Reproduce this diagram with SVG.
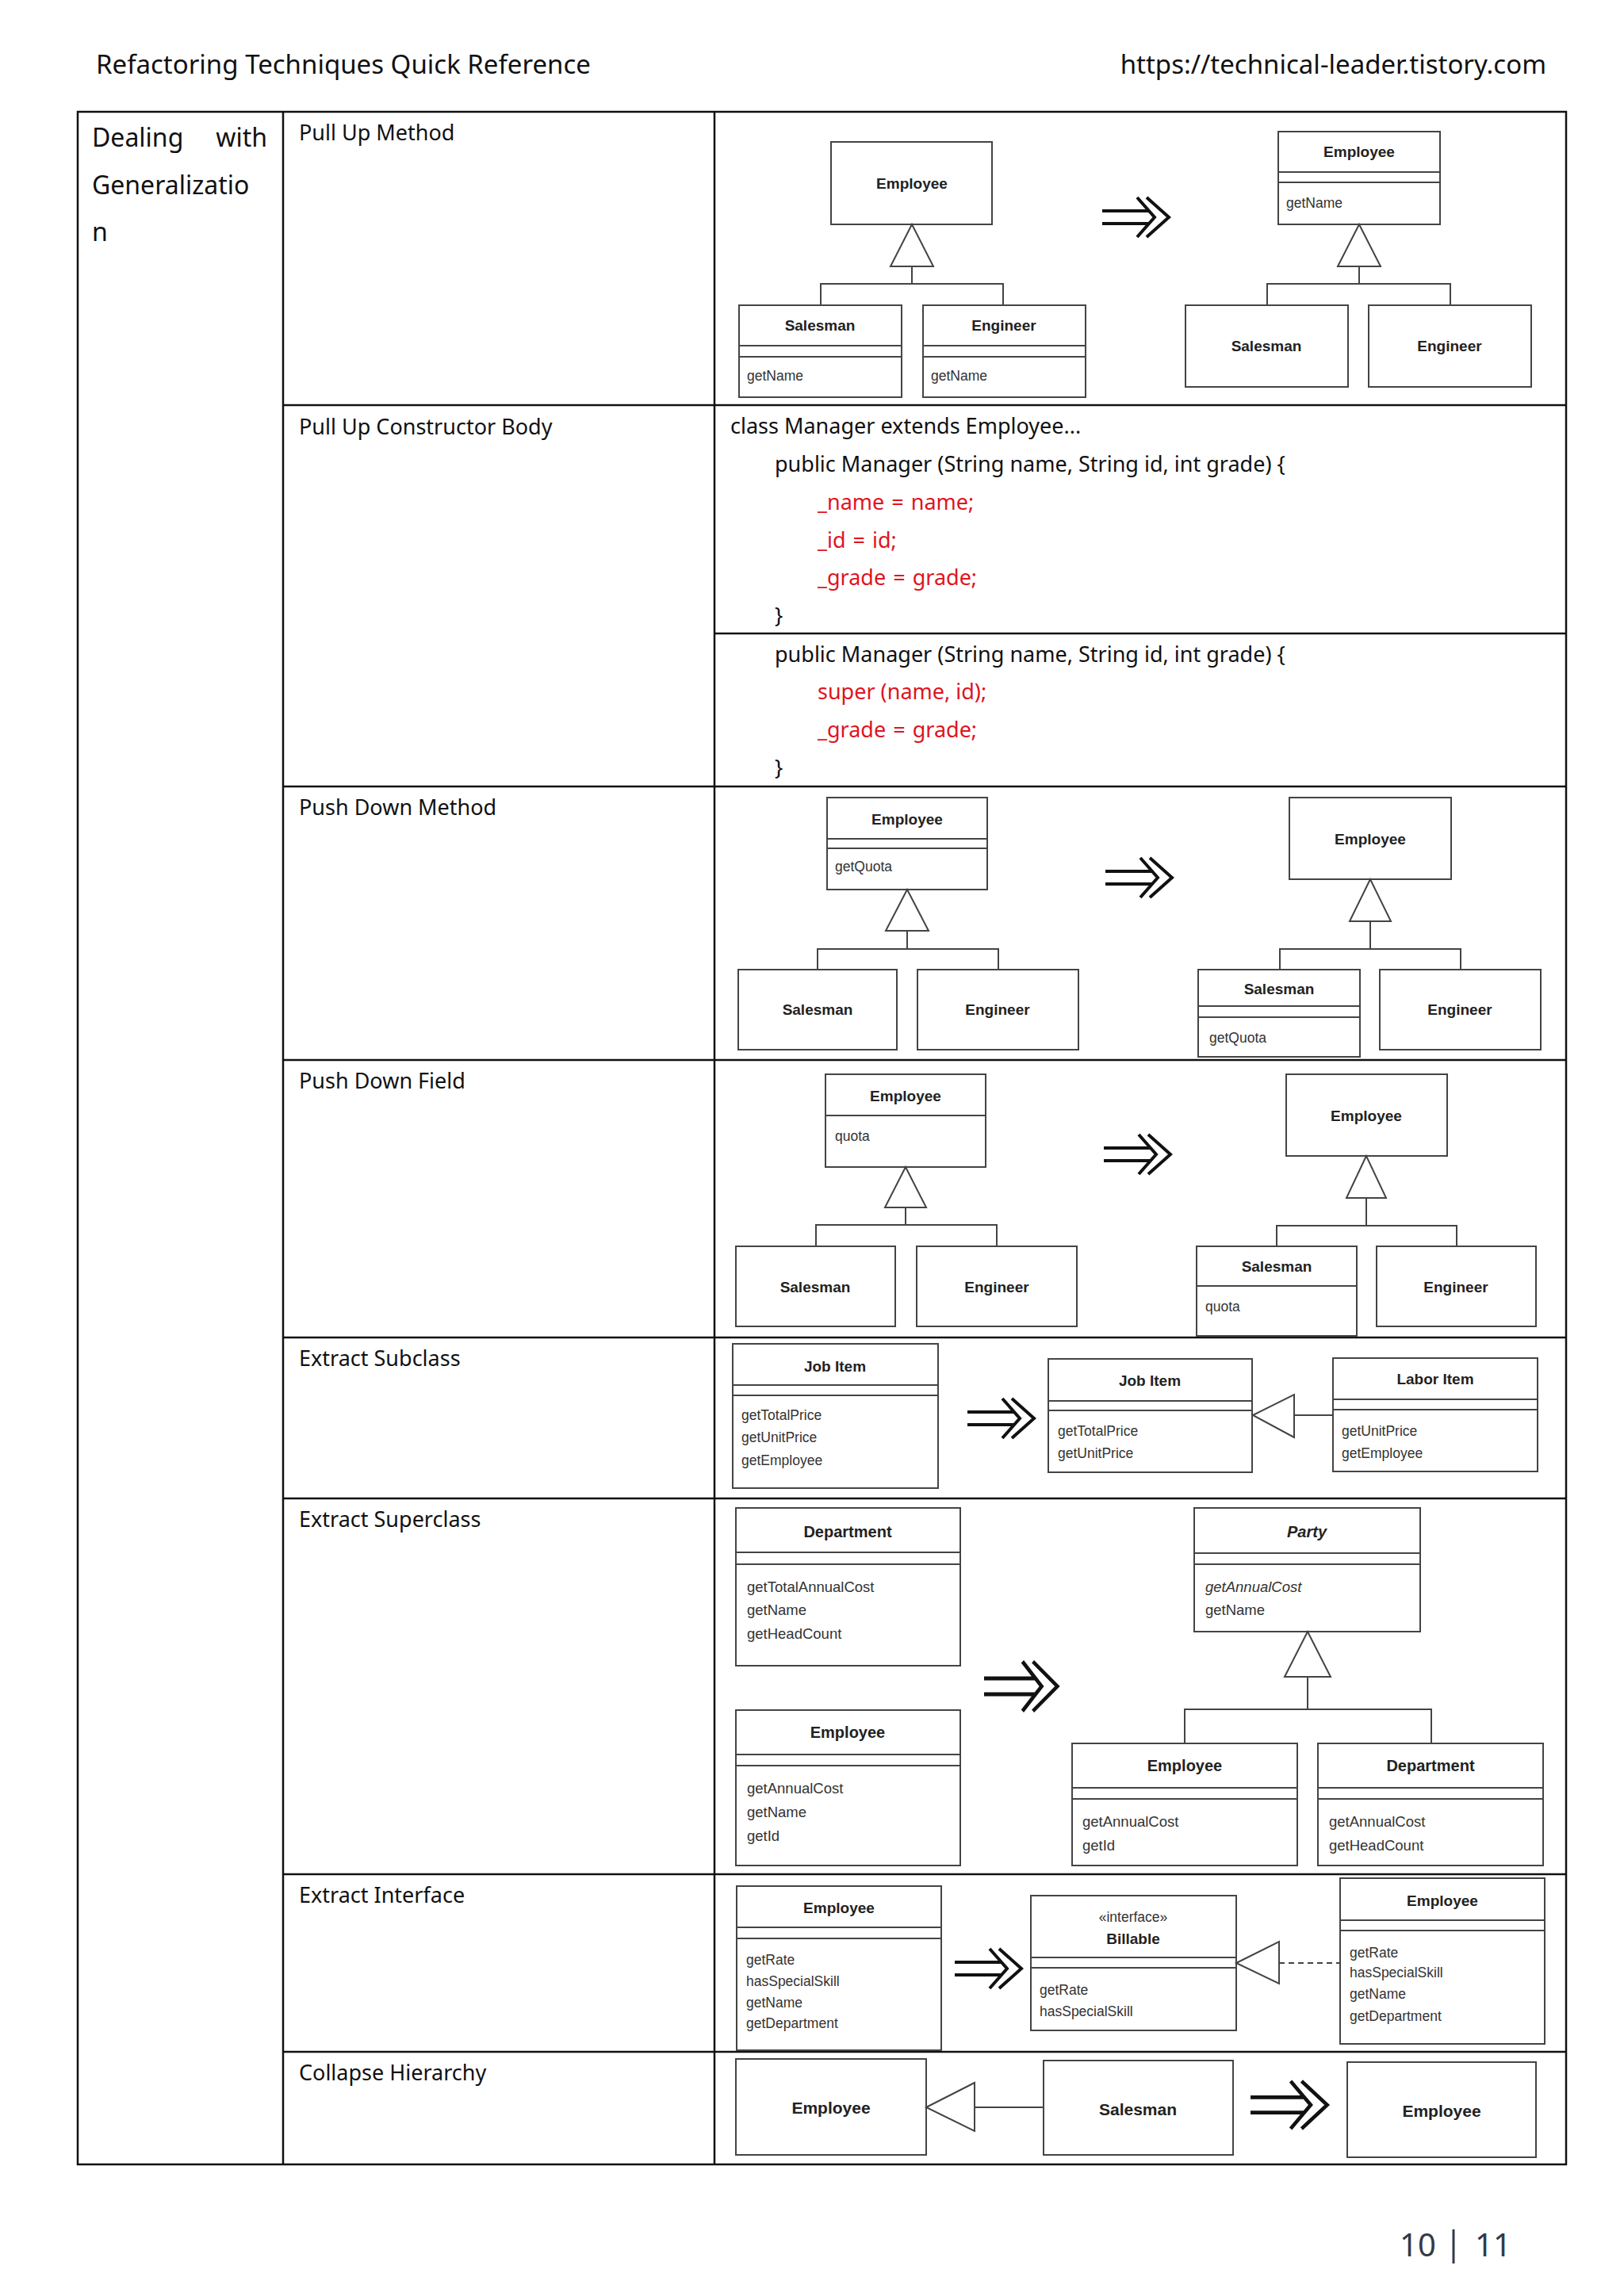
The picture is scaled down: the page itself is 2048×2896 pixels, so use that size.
<svg xmlns="http://www.w3.org/2000/svg" width="2048" height="2896" viewBox="0 0 2048 2896">
<style>
.t{font-family:"Noto Sans","Open Sans",sans-serif;fill:#111}
.h{font-size:33px}
.c1{font-size:32px}
.c2{font-size:27px}
.red{fill:#e0141e}
.ws{word-spacing:2px}
.pg{font-size:40px;fill:#333a48}
.grid{stroke:#111;stroke-width:2.5;fill:none}
.box{fill:#fff;stroke:#444;stroke-width:2}
.dv{stroke:#444;stroke-width:2}
.cn{font-family:"Liberation Sans",Arial,sans-serif;font-weight:bold;font-size:19px;fill:#222;text-anchor:middle}
.cn2{font-size:20px}
.cn3{font-size:21px}
.m{font-family:"Liberation Sans",Arial,sans-serif;font-size:17.5px;fill:#333}
.m2{font-size:18.5px}
.it{font-style:italic}
.conn{stroke:#444;stroke-width:2;fill:none}
.dash{stroke-dasharray:7 5}
.tri{fill:#fff;stroke:#444;stroke-width:2}
.arr{stroke:#111;stroke-width:4;fill:none}
</style>
<defs>
<g id="dblarrow">
<path class="arr" d="M0,-8 H60 M0,8 H60 M44,-25 L66,0 L44,25 M56,-25 L84,0 L56,25"/>
</g>
</defs>
<rect width="2048" height="2896" fill="#fff"/>

<g id="header">
<text class="t h" x="121" y="93">Refactoring Techniques Quick Reference</text>
<text class="t h" x="1950" y="93" text-anchor="end">https://technical-leader.tistory.com</text>
</g>

<g id="table">
<rect class="grid" x="98" y="141" width="1877" height="2589"/>
<path class="grid" d="M357,141 V2730 M901,141 V2730 M357,511 H1975 M357,992 H1975 M357,1337 H1975 M357,1687 H1975 M357,1890 H1975 M357,2364 H1975 M357,2588 H1975 M901,799 H1975"/>
</g>

<g id="category">
<text class="t c1" x="116" y="185">Dealing</text>
<text class="t c1" x="337" y="185" text-anchor="end">with</text>
<text class="t c1" x="116" y="245">Generalizatio</text>
<text class="t c1" x="116" y="304">n</text>
</g>

<g id="names">
<text class="t c2" x="377" y="177">Pull Up Method</text>
<text class="t c2" x="377" y="548">Pull Up Constructor Body</text>
<text class="t c2" x="377" y="1028">Push Down Method</text>
<text class="t c2" x="377" y="1373">Push Down Field</text>
<text class="t c2" x="377" y="1723">Extract Subclass</text>
<text class="t c2" x="377" y="1926">Extract Superclass</text>
<text class="t c2" x="377" y="2400">Extract Interface</text>
<text class="t c2" x="377" y="2624">Collapse Hierarchy</text>
</g>

<g id="code">
<text class="t c2" x="921" y="547">class Manager extends Employee...</text>
<text class="t c2" x="977" y="595">public Manager (String name, String id, int grade) {</text>
<text class="t c2 red ws" x="1031" y="643">_name = name;</text>
<text class="t c2 red ws" x="1031" y="691">_id = id;</text>
<text class="t c2 red ws" x="1031" y="738">_grade = grade;</text>
<text class="t c2" x="977" y="786">}</text>
<text class="t c2" x="977" y="835">public Manager (String name, String id, int grade) {</text>
<text class="t c2 red" x="1031" y="882">super (name, id);</text>
<text class="t c2 red ws" x="1031" y="930">_grade = grade;</text>
<text class="t c2" x="977" y="978">}</text>
</g>

<!-- Row 1: Pull Up Method -->
<g id="r1-employee">
<rect class="box" x="1048" y="179" width="203" height="104"/>
<text class="cn" x="1150" y="238">Employee</text>
</g>
<g id="r1-salesman">
<rect class="box" x="932" y="385" width="205" height="116"/>
<path class="dv" d="M932,436 H1137 M932,450 H1137"/>
<text class="cn" x="1034" y="417">Salesman</text>
<text class="m" x="942" y="480">getName</text>
</g>
<g id="r1-engineer">
<rect class="box" x="1164" y="385" width="205" height="116"/>
<path class="dv" d="M1164,436 H1369 M1164,450 H1369"/>
<text class="cn" x="1266" y="417">Engineer</text>
<text class="m" x="1174" y="480">getName</text>
</g>
<g id="r1-employee2">
<rect class="box" x="1612" y="166" width="204" height="117"/>
<path class="dv" d="M1612,217 H1816 M1612,230 H1816"/>
<text class="cn" x="1714" y="198">Employee</text>
<text class="m" x="1622" y="262">getName</text>
</g>
<g id="r1-salesman2">
<rect class="box" x="1495" y="385" width="205" height="103"/>
<text class="cn" x="1597" y="443">Salesman</text>
</g>
<g id="r1-engineer2">
<rect class="box" x="1726" y="385" width="205" height="103"/>
<text class="cn" x="1828" y="443">Engineer</text>
</g>

<!-- Row 3: Push Down Method -->
<g id="r3-employee">
<rect class="box" x="1043" y="1006" width="202" height="116"/>
<path class="dv" d="M1043,1058 H1245 M1043,1070 H1245"/>
<text class="cn" x="1144" y="1040">Employee</text>
<text class="m" x="1053" y="1099">getQuota</text>
</g>
<g id="r3-salesman">
<rect class="box" x="931" y="1223" width="200" height="101"/>
<text class="cn" x="1031" y="1280">Salesman</text>
</g>
<g id="r3-engineer">
<rect class="box" x="1157" y="1223" width="203" height="101"/>
<text class="cn" x="1258" y="1280">Engineer</text>
</g>
<g id="r3-employee2">
<rect class="box" x="1626" y="1006" width="204" height="103"/>
<text class="cn" x="1728" y="1065">Employee</text>
</g>
<g id="r3-salesman2">
<rect class="box" x="1511" y="1223" width="204" height="110"/>
<path class="dv" d="M1511,1269 H1715 M1511,1283 H1715"/>
<text class="cn" x="1613" y="1254">Salesman</text>
<text class="m" x="1525" y="1315">getQuota</text>
</g>
<g id="r3-engineer2">
<rect class="box" x="1740" y="1223" width="203" height="101"/>
<text class="cn" x="1841" y="1280">Engineer</text>
</g>

<!-- Row 4: Push Down Field -->
<g id="r4-employee">
<rect class="box" x="1041" y="1355" width="202" height="117"/>
<path class="dv" d="M1041,1407 H1243"/>
<text class="cn" x="1142" y="1389">Employee</text>
<text class="m" x="1053" y="1439">quota</text>
</g>
<g id="r4-salesman">
<rect class="box" x="928" y="1572" width="201" height="101"/>
<text class="cn" x="1028" y="1630">Salesman</text>
</g>
<g id="r4-engineer">
<rect class="box" x="1156" y="1572" width="202" height="101"/>
<text class="cn" x="1257" y="1630">Engineer</text>
</g>
<g id="r4-employee2">
<rect class="box" x="1622" y="1355" width="203" height="103"/>
<text class="cn" x="1723" y="1414">Employee</text>
</g>
<g id="r4-salesman2">
<rect class="box" x="1509" y="1572" width="202" height="113"/>
<path class="dv" d="M1509,1622 H1711"/>
<text class="cn" x="1610" y="1604">Salesman</text>
<text class="m" x="1520" y="1654">quota</text>
</g>
<g id="r4-engineer2">
<rect class="box" x="1736" y="1572" width="201" height="101"/>
<text class="cn" x="1836" y="1630">Engineer</text>
</g>

<!-- Row 5: Extract Subclass -->
<g id="r5-jobitem">
<rect class="box" x="924" y="1695" width="259" height="182"/>
<path class="dv" d="M924,1747 H1183 M924,1760 H1183"/>
<text class="cn" x="1053" y="1730">Job Item</text>
<text class="m" x="935" y="1791">getTotalPrice</text>
<text class="m" x="935" y="1819">getUnitPrice</text>
<text class="m" x="935" y="1848">getEmployee</text>
</g>
<g id="r5-jobitem2">
<rect class="box" x="1322" y="1714" width="257" height="143"/>
<path class="dv" d="M1322,1767 H1579 M1322,1779 H1579"/>
<text class="cn" x="1450" y="1748">Job Item</text>
<text class="m" x="1334" y="1811">getTotalPrice</text>
<text class="m" x="1334" y="1839">getUnitPrice</text>
</g>
<g id="r5-laboritem">
<rect class="box" x="1681" y="1713" width="258" height="143"/>
<path class="dv" d="M1681,1765 H1939 M1681,1778 H1939"/>
<text class="cn" x="1810" y="1746">Labor Item</text>
<text class="m" x="1692" y="1811">getUnitPrice</text>
<text class="m" x="1692" y="1839">getEmployee</text>
</g>

<!-- Row 6: Extract Superclass -->
<g id="r6-department">
<rect class="box" x="928" y="1902" width="283" height="199"/>
<path class="dv" d="M928,1958 H1211 M928,1973 H1211"/>
<text class="cn cn2" x="1069" y="1939">Department</text>
<text class="m m2" x="942" y="2008">getTotalAnnualCost</text>
<text class="m m2" x="942" y="2037">getName</text>
<text class="m m2" x="942" y="2067">getHeadCount</text>
</g>
<g id="r6-employee">
<rect class="box" x="928" y="2157" width="283" height="196"/>
<path class="dv" d="M928,2213 H1211 M928,2227 H1211"/>
<text class="cn cn2" x="1069" y="2192">Employee</text>
<text class="m m2" x="942" y="2262">getAnnualCost</text>
<text class="m m2" x="942" y="2292">getName</text>
<text class="m m2" x="942" y="2322">getId</text>
</g>
<g id="r6-party">
<rect class="box" x="1506" y="1902" width="285" height="156"/>
<path class="dv" d="M1506,1959 H1791 M1506,1973 H1791"/>
<text class="cn cn2 it" x="1648" y="1939">Party</text>
<text class="m m2 it" x="1520" y="2008">getAnnualCost</text>
<text class="m m2" x="1520" y="2037">getName</text>
</g>
<g id="r6-employee2">
<rect class="box" x="1352" y="2199" width="284" height="154"/>
<path class="dv" d="M1352,2255 H1636 M1352,2269 H1636"/>
<text class="cn cn2" x="1494" y="2234">Employee</text>
<text class="m m2" x="1365" y="2304">getAnnualCost</text>
<text class="m m2" x="1365" y="2334">getId</text>
</g>
<g id="r6-department2">
<rect class="box" x="1662" y="2199" width="284" height="154"/>
<path class="dv" d="M1662,2255 H1946 M1662,2269 H1946"/>
<text class="cn cn2" x="1804" y="2234">Department</text>
<text class="m m2" x="1676" y="2304">getAnnualCost</text>
<text class="m m2" x="1676" y="2334">getHeadCount</text>
</g>

<!-- Row 7: Extract Interface -->
<g id="r7-employee">
<rect class="box" x="929" y="2379" width="258" height="207"/>
<path class="dv" d="M929,2431 H1187 M929,2445 H1187"/>
<text class="cn" x="1058" y="2413">Employee</text>
<text class="m" x="941" y="2478">getRate</text>
<text class="m" x="941" y="2505">hasSpecialSkill</text>
<text class="m" x="941" y="2532">getName</text>
<text class="m" x="941" y="2558">getDepartment</text>
</g>
<g id="r7-billable">
<rect class="box" x="1300" y="2391" width="259" height="170"/>
<path class="dv" d="M1300,2469 H1559 M1300,2482 H1559"/>
<text class="m" x="1429" y="2424" text-anchor="middle" font-size="16">«interface»</text>
<text class="cn" x="1429" y="2452">Billable</text>
<text class="m" x="1311" y="2516">getRate</text>
<text class="m" x="1311" y="2543">hasSpecialSkill</text>
</g>
<g id="r7-employee2">
<rect class="box" x="1690" y="2369" width="258" height="209"/>
<path class="dv" d="M1690,2422 H1948 M1690,2435 H1948"/>
<text class="cn" x="1819" y="2404">Employee</text>
<text class="m" x="1702" y="2469">getRate</text>
<text class="m" x="1702" y="2494">hasSpecialSkill</text>
<text class="m" x="1702" y="2521">getName</text>
<text class="m" x="1702" y="2549">getDepartment</text>
</g>

<!-- Row 8: Collapse Hierarchy -->
<g id="r8-employee">
<rect class="box" x="928" y="2597" width="240" height="121"/>
<text class="cn cn3" x="1048" y="2666">Employee</text>
</g>
<g id="r8-salesman">
<rect class="box" x="1316" y="2599" width="239" height="119"/>
<text class="cn cn3" x="1435" y="2668">Salesman</text>
</g>
<g id="r8-employee2">
<rect class="box" x="1699" y="2601" width="238" height="120"/>
<text class="cn cn3" x="1818" y="2670">Employee</text>
</g>

<g id="connectors">
<!-- row 1 -->
<path class="conn" d="M1150,336 V358 M1035,385 V358 H1265 V385"/>
<polygon class="tri" points="1150,283 1123,336 1177,336"/>
<path class="conn" d="M1714,336 V358 M1598,385 V358 H1829 V385"/>
<polygon class="tri" points="1714,283 1687,336 1741,336"/>
<!-- row 3 -->
<path class="conn" d="M1144,1174 V1197 M1031,1223 V1197 H1259 V1223"/>
<polygon class="tri" points="1144,1122 1117,1174 1171,1174"/>
<path class="conn" d="M1728,1162 V1197 M1614,1223 V1197 H1842 V1223"/>
<polygon class="tri" points="1728,1109 1702,1162 1754,1162"/>
<!-- row 4 -->
<path class="conn" d="M1142,1523 V1545 M1029,1572 V1545 H1257 V1572"/>
<polygon class="tri" points="1142,1472 1116,1523 1168,1523"/>
<path class="conn" d="M1723,1511 V1546 M1610,1572 V1546 H1837 V1572"/>
<polygon class="tri" points="1723,1458 1698,1511 1748,1511"/>
<!-- row 5 -->
<path class="conn" d="M1632,1785 H1681"/>
<polygon class="tri" points="1580,1785 1632,1759 1632,1813"/>
<!-- row 6 -->
<path class="conn" d="M1649,2115 V2156 M1494,2199 V2156 H1805 V2199"/>
<polygon class="tri" points="1649,2058 1620,2115 1678,2115"/>
<!-- row 7 -->
<path class="conn dash" d="M1613,2476 H1690"/>
<polygon class="tri" points="1559,2476 1613,2449 1613,2502"/>
<!-- row 8 -->
<path class="conn" d="M1229,2658 H1316"/>
<polygon class="tri" points="1168,2658 1229,2627 1229,2688"/>
<!-- refactoring arrows -->
<use href="#dblarrow" transform="translate(1390,274)"/>
<use href="#dblarrow" transform="translate(1394,1107)"/>
<use href="#dblarrow" transform="translate(1392,1456)"/>
<use href="#dblarrow" transform="translate(1220,1789)"/>
<use href="#dblarrow" transform="translate(1241,2127) scale(1.1,1.25)"/>
<use href="#dblarrow" transform="translate(1204,2483)"/>
<use href="#dblarrow" transform="translate(1577,2655) scale(1.15,1.2)"/>
</g>

<g id="footer">
<text class="t pg" x="1765" y="2846">10</text>
<path d="M1833,2812 V2855" stroke="#333a48" stroke-width="3"/>
<text class="t pg" x="1860" y="2846">11</text>
</g>
</svg>
